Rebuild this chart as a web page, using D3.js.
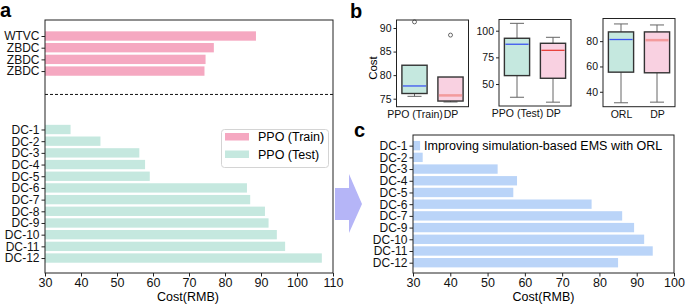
<!DOCTYPE html>
<html>
<head>
<meta charset="utf-8">
<script src="https://cdn.jsdelivr.net/npm/d3@7"></script>
<style>
  body { margin: 0; background: #fff; }
  svg { display: block; font-family: "Liberation Sans", Arial, sans-serif; }
  .tick line { stroke: #222; }
  .tick text { fill: #111; }
</style>
</head>
<body>
<div class="canvas"></div>
<script>
const dims = { width: 685, height: 304 };

// panel a data
const trainLabels = ['WTVC', 'ZBDC', 'ZBDC', 'ZBDC'];
const trainCost = [88.6, 76.9, 74.6, 74.3];
const testLabels = ['DC-1', 'DC-2', 'DC-3', 'DC-4', 'DC-5', 'DC-6', 'DC-7', 'DC-8', 'DC-9', 'DC-10', 'DC-11', 'DC-12'];
const testCost = [37.1, 45.4, 56.2, 57.8, 59.1, 86.1, 87.0, 91.1, 92.1, 94.4, 96.7, 106.9];
const costTicksA = [30, 40, 50, 60, 70, 80, 90, 100, 110];

// panel b data: [low whisker, q1, median, q3, high whisker]
const b1Groups = ['PPO (Train)', 'DP'];
const b1Stats = [[75.5, 76.1, 77.7, 82.1, 82.1], [74.3, 74.5, 75.7, 79.6, 79.6]];
const b1Outliers = [[91.3], [88.5]];
const b1Ticks = [75, 80, 85, 90];

const b2Groups = ['PPO (Test)', 'DP'];
const b2Stats = [[37.6, 57.9, 87.3, 92.9, 106.9], [33.0, 55.4, 81.6, 88.2, 93.8]];
const b2Ticks = [50, 75, 100];

const b3Groups = ['ORL', 'DP'];
const b3Stats = [[31.3, 55.5, 81.3, 87.3, 93.6], [31.8, 55.0, 80.8, 87.3, 92.8]];
const b3Ticks = [40, 60, 80];

// panel c data
const orlLabels = ['DC-1', 'DC-2', 'DC-3', 'DC-4', 'DC-5', 'DC-6', 'DC-7', 'DC-9', 'DC-10', 'DC-11', 'DC-12'];
const orlCost = [31.9, 32.6, 52.7, 57.9, 56.9, 77.9, 86.1, 89.3, 92.0, 94.3, 85.0];
const costTicksC = [30, 40, 50, 60, 70, 80, 90, 100];

const pink = '#f5a8c1';
const teal = '#c5e8df';
const blue = '#bad4f8';
const boxPink = '#f9d1e1';

const svg = d3.select('.canvas')
  .append('svg')
    .attr('width', dims.width)
    .attr('height', dims.height);

// helper: axes frame
const frame = (g, x0, x1, y0, y1) => {
  g.append('rect')
    .attr('x', x0).attr('y', y0)
    .attr('width', x1 - x0).attr('height', y1 - y0)
    .attr('fill', 'none')
    .attr('stroke', '#222')
    .attr('stroke-width', 1);
};

// ---------- panel a ----------
const ga = svg.append('g');
const xa = d3.scaleLinear().domain([30, 110]).range([45, 333]);
const ya = d3.scaleLinear().domain([-1.37, 20.28]).range([20, 273]);
const bandA = (ya(1) - ya(0)) * 0.8;
const testOffset = 8;

ga.selectAll('.train')
  .data(trainCost)
  .enter().append('rect')
    .attr('x', xa(30))
    .attr('y', (d, i) => ya(i) - bandA / 2)
    .attr('width', d => xa(d) - xa(30))
    .attr('height', bandA)
    .attr('fill', pink);

ga.selectAll('.test')
  .data(testCost)
  .enter().append('rect')
    .attr('x', xa(30))
    .attr('y', (d, i) => ya(i + testOffset) - bandA / 2)
    .attr('width', d => xa(d) - xa(30))
    .attr('height', bandA)
    .attr('fill', teal);

ga.append('line')
  .attr('x1', xa(30)).attr('x2', xa(110))
  .attr('y1', ya(5)).attr('y2', ya(5))
  .attr('stroke', '#111')
  .attr('stroke-dasharray', '3,2');

const yaTicks = trainLabels.map((d, i) => i).concat(testLabels.map((d, i) => i + testOffset));
const yaLabel = i => i < testOffset ? trainLabels[i] : testLabels[i - testOffset];

ga.append('g')
  .attr('transform', `translate(${xa(30)},0)`)
  .call(d3.axisLeft(ya).tickValues(yaTicks).tickFormat(yaLabel).tickSize(3.5).tickPadding(2))
  .call(g => g.select('.domain').remove())
  .selectAll('text').style('font-size', '12px');

ga.append('g')
  .attr('transform', `translate(0,${ya.range()[1]})`)
  .call(d3.axisBottom(xa).tickValues(costTicksA).tickSize(3.5).tickPadding(2))
  .call(g => g.select('.domain').remove())
  .selectAll('text').style('font-size', '12.5px');

frame(ga, xa(30), xa(110), ya.range()[0], ya.range()[1]);

ga.append('text')
  .attr('x', (xa(30) + xa(110)) / 2 - 1)
  .attr('y', 301)
  .attr('text-anchor', 'middle')
  .style('font-size', '12.5px')
  .text('Cost(RMB)');

// legend
const leg = ga.append('g');
leg.append('rect')
  .attr('x', 221.5).attr('y', 129.5)
  .attr('width', 107).attr('height', 38)
  .attr('rx', 3)
  .attr('fill', '#fff')
  .attr('stroke', '#d4d4d4');
[['PPO (Train)', pink], ['PPO (Test)', teal]].forEach(([name, c], i) => {
  leg.append('rect')
    .attr('x', 225).attr('y', 133 + i * 17.5)
    .attr('width', 24).attr('height', 7.5)
    .attr('fill', c);
  leg.append('text')
    .attr('x', 258).attr('y', 141 + i * 17.5)
    .style('font-size', '12.5px')
    .text(name);
});

svg.append('text')
  .attr('x', 0).attr('y', 17)
  .style('font-size', '20px').style('font-weight', 'bold')
  .text('a');

// ---------- panel b ----------
const drawBoxes = (x0, x1, y0, y1, domain, groups, stats, outliers, ticks, medStyles) => {
  const g = svg.append('g');
  const x = d3.scaleLinear().domain([0.5, 2.5]).range([x0, x1]);
  const y = d3.scaleLinear().domain(domain).range([y1, y0]);
  const bw = (x(1) - x(0)) * 0.7;
  const cw = (x(1) - x(0)) * 0.39;

  stats.forEach((s, i) => {
    const cx = x(i + 1);
    const fill = i === 0 ? teal : boxPink;
    // whiskers
    [[s[0], s[1]], [s[3], s[4]]].forEach(([a, b]) => {
      if (a === b) return;
      g.append('line')
        .attr('x1', cx).attr('x2', cx)
        .attr('y1', y(a)).attr('y2', y(b))
        .attr('stroke', '#666').attr('stroke-width', 1);
    });
    [s[0], s[4]].forEach((v, k) => {
      if ((k === 0 && s[0] === s[1]) || (k === 1 && s[4] === s[3])) return;
      g.append('line')
        .attr('x1', cx - cw / 2).attr('x2', cx + cw / 2)
        .attr('y1', y(v)).attr('y2', y(v))
        .attr('stroke', '#666').attr('stroke-width', 1);
    });
    g.append('rect')
      .attr('x', cx - bw / 2).attr('y', y(s[3]))
      .attr('width', bw).attr('height', y(s[1]) - y(s[3]))
      .attr('fill', fill)
      .attr('stroke', '#333').attr('stroke-width', 1.4);
    g.append('line')
      .attr('x1', cx - bw / 2 + 1).attr('x2', cx + bw / 2 - 1)
      .attr('y1', y(s[2])).attr('y2', y(s[2]))
      .attr('stroke', medStyles[i][0]).attr('stroke-width', medStyles[i][1]);
    (outliers ? outliers[i] : []).forEach(v => {
      g.append('circle')
        .attr('cx', cx).attr('cy', y(v)).attr('r', 2)
        .attr('fill', 'none').attr('stroke', '#444').attr('stroke-width', 0.8);
    });
  });

  g.append('g')
    .attr('transform', `translate(${x0},0)`)
    .call(d3.axisLeft(y).tickValues(ticks).tickSize(3).tickPadding(2))
    .call(a => a.select('.domain').remove())
    .selectAll('text').style('font-size', '10.5px');

  g.append('g')
    .attr('transform', `translate(0,${y1})`)
    .call(d3.axisBottom(x).tickValues([1, 2]).tickFormat(i => groups[i - 1]).tickSize(0).tickPadding(4))
    .call(a => a.select('.domain').remove())
    .selectAll('text').style('font-size', '10.5px');

  frame(g, x0, x1, y0, y1);
  return g;
};

const blueMed = ['#3d55f0', 1.3];
const b1 = drawBoxes(396.5, 468.5, 20, 106.7, [73.3, 91.7], b1Groups, b1Stats, b1Outliers, b1Ticks,
  [blueMed, ['#f39a9c', 2.5]]);
b1.append('text')
  .attr('transform', 'translate(377,68) rotate(-90)')
  .attr('text-anchor', 'middle')
  .style('font-size', '11.5px')
  .text('Cost');

drawBoxes(499, 571, 19.5, 106, [29.4, 110.5], b2Groups, b2Stats, null, b2Ticks,
  [blueMed, ['#e8423c', 1.3]]);

drawBoxes(603, 675, 18.5, 106.7, [28.2, 97.9], b3Groups, b3Stats, null, b3Ticks,
  [blueMed, ['#f39a9c', 2.5]]);

svg.append('text')
  .attr('x', 350).attr('y', 18)
  .style('font-size', '20px').style('font-weight', 'bold')
  .text('b');

// ---------- arrow ----------
svg.append('path')
  .attr('d', 'M335,188 L349,188 L349,174 L362,204 L349,233 L349,220 L335,220 Z')
  .attr('fill', '#b5b5f7');

// ---------- panel c ----------
const gc = svg.append('g');
const xc = d3.scaleLinear().domain([30, 100]).range([413, 674]);
const yc = d3.scaleLinear().domain([-0.91, 10.88]).range([135, 273]);
const bandC = (yc(1) - yc(0)) * 0.8;

gc.selectAll('.orl')
  .data(orlCost)
  .enter().append('rect')
    .attr('x', xc(30))
    .attr('y', (d, i) => yc(i) - bandC / 2)
    .attr('width', d => xc(d) - xc(30))
    .attr('height', bandC)
    .attr('fill', blue);

gc.append('g')
  .attr('transform', `translate(${xc(30)},0)`)
  .call(d3.axisLeft(yc).tickValues(d3.range(orlLabels.length)).tickFormat(i => orlLabels[i]).tickSize(3.5).tickPadding(2))
  .call(g => g.select('.domain').remove())
  .selectAll('text').style('font-size', '12px');

gc.append('g')
  .attr('transform', `translate(0,${yc.range()[1]})`)
  .call(d3.axisBottom(xc).tickValues(costTicksC).tickSize(3.5).tickPadding(2))
  .call(g => g.select('.domain').remove())
  .selectAll('text').style('font-size', '12.5px');

frame(gc, xc(30), xc(100), yc.range()[0], yc.range()[1]);

gc.append('text')
  .attr('x', 424).attr('y', 150)
  .style('font-size', '12.5px')
  .text('Improving simulation-based EMS with ORL');

gc.append('text')
  .attr('x', (xc(30) + xc(100)) / 2)
  .attr('y', 301)
  .attr('text-anchor', 'middle')
  .style('font-size', '12.5px')
  .text('Cost(RMB)');

svg.append('text')
  .attr('x', 354).attr('y', 137)
  .style('font-size', '20px').style('font-weight', 'bold')
  .text('c');
</script>
</body>
</html>
